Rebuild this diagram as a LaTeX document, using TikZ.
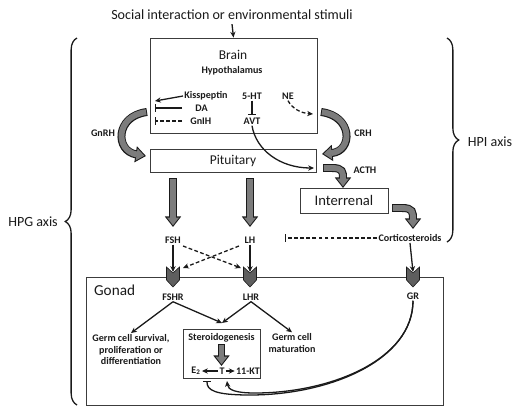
\documentclass[tikz,border=0pt]{standalone}
\usepackage{fontspec}
\setmainfont{Carlito}
\usetikzlibrary{calc,arrows.meta,decorations.pathreplacing}
\definecolor{ink}{HTML}{1A1A1A}
\definecolor{frame}{HTML}{3C3C3C}
\definecolor{blockgray}{HTML}{7C7C7C}
\definecolor{chevgray}{HTML}{5E5E5E}
\tikzset{
  box/.style={draw=frame, line width=0.8pt, inner sep=0pt},
  big/.style={text=ink, font=\fontsize{11.5}{13}\selectfont},
  sml/.style={text=ink, inner sep=1pt, align=center, font=\bfseries\fontsize{8.6}{9.8}\selectfont},
  arr/.style={draw=ink, line width=1.1pt, -{Stealth[length=5pt,width=4.5pt]}},
  inh/.style={draw=ink, line width=1.1pt, -{Bar[width=6.5pt]}},
  dsh/.style={dash pattern=on 3.2pt off 2pt},
  fat/.style={draw=blockgray, line width=5pt, shorten <=0.8pt, shorten >=1.5pt,
    -{Triangle[length=6.6pt,width=10pt]},
    preaction={draw=ink, line width=6.8pt, shorten <=0pt, shorten >=0pt,
      -{Triangle[length=9pt,width=13.4pt]}}},
  chev/.style={fill=chevgray, draw=ink, line width=0.5pt, line join=miter},
  brc/.style={draw=ink, line width=1.1pt, decorate, decoration={brace, amplitude=10pt}},
}

\begin{document}
\begin{tikzpicture}[x=0.03cm, y=-0.03cm]
  \useasboundingbox (0,0) rectangle (520,414);
  % boxes
  \node[box, minimum width=5.01cm, minimum height=2.85cm] (brain) at (233.5,85.5) {};
  \node[box, big, minimum width=4.98cm, minimum height=0.69cm] (pit) at (233,160.5) {Pituitary};
  \node[box, big, font=\fontsize{12.5}{14}\selectfont, minimum width=2.64cm, minimum height=0.75cm] (inter) at (344,200.5) {Interrenal};
  \node[box, minimum width=10.71cm, minimum height=3.84cm] (gonad) at (264.5,341) {};
  \node[box, minimum width=2.31cm, minimum height=1.47cm] (ster) at (221.5,353.5) {};

  % stimulus
  \node[big, font=\fontsize{12}{14}\selectfont] (soc) at (232,15) {Social interaction or environmental stimuli};
  \draw[arr] (soc.south) -- (brain.north);

  % brain
  \node[big] (brainlbl) at (233,55) {Brain};
  \node[sml] (hypo) at (232,71) {Hypothalamus};
  \node[sml, anchor=west] (kiss) at (183,96) {Kisspeptin};
  \node[sml, anchor=west] (da) at (194,108) {DA};
  \node[sml, anchor=west] (gnih) at (189,121) {GnIH};
  \coordinate (kissend) at (155,101);
  \draw[arr] (kiss.west) -- (kissend);
  \draw[inh] (182,108) -- (155,108);
  \draw[inh, dsh] (182,121) -- (155,121);
  \node[sml] (ht) at (252,96) {5-HT};
  \node[sml] (avt) at (252,121) {AVT};
  \draw[inh] (ht.south) -- ($(avt.north)+(0,-1)$);
  \node[sml] (ne) at (288,96) {NE};
  \coordinate (neend) at (313,114);
  \draw[arr, dsh] (ne.south) .. controls (292,108) and (300,113) .. (neend);
  \coordinate (avtend) at (314,168);
  \draw[arr] (avt.south) .. controls (256,150) and (280,168) .. (avtend);

  % hormones between boxes
  \draw[fat] (147,112) .. controls (115,116) and (115,151) .. (146,156);
  \node[sml] (gnrh) at (103,133) {GnRH};
  \draw[fat] (321,112) .. controls (353,116) and (353,151) .. (322,154);
  \node[sml] (crh) at (363,133) {CRH};
  \draw[fat] (323,168) -- (332,168) .. controls (343,168) and (343,172) .. (343,188);
  \node[sml] (acth) at (365,170) {ACTH};
  \draw[fat] (392,208) -- (402,208) .. controls (413,208) and (413,212) .. (413,229);
  \node[sml] (cort) at (410,238) {Corticosteroids};
  \draw[inh, dsh] (cort.west) -- (285,238);

  \draw[fat] (173,178) -- (173,227);
  \draw[fat] (250,178) -- (250,227);
  \node[sml] (fsh) at (173,240) {FSH};
  \node[sml] (lh) at (250,240) {LH};

  % receptors
  \coordinate (fshrc) at (173,277);
  \coordinate (lhrc) at (250,277);
  \coordinate (grc) at (413,277);
  \draw[arr] (fsh.south) -- ($(fshrc)+(0,-5)$);
  \draw[arr] (lh.south) -- ($(lhrc)+(0,-5)$);
  \draw[arr, dsh] (183,246) -- (241,268);
  \draw[arr, dsh] (239,246) -- (183,268);
  \draw[arr] (cort.south) -- ($(grc)+(0,-5)$);
  \foreach \c in {fshrc,lhrc,grc}
    \draw[chev, shift={(\c)}] (-6.5,-10) -- (0,-4) -- (6.5,-10) -- (6.5,3) -- (0,10) -- (-6.5,3) -- cycle;

  % gonad
  \node[big, anchor=west, font=\fontsize{13}{15}\selectfont] (gonlbl) at (90,290) {Gonad};
  \node[sml] (fshr) at (173,297) {FSHR};
  \node[sml] (lhr) at (251,297) {LHR};
  \node[sml] (gr) at (413,296) {GR};
  \node[sml] (germa) at (131,349.5) {Germ cell survival,\\proliferation or\\differentiation};
  \node[sml] (germb) at (292,343) {Germ cell\\maturation};
  \coordinate (sterin) at (222,323);
  \draw[arr] (fshr.south) -- (germa.north);
  \draw[arr] (fshr.south) -- (sterin);
  \draw[arr] (lhr.south) -- (sterin);
  \draw[arr] (lhr.south) -- (germb.north);
  \node[sml] (sterlbl) at (221.5,338) {Steroidogenesis};
  \draw[fat] (221.5,344) -- (221.5,366);
  \node[sml] (t) at (222,371) {T};
  \node[sml] (e2) at (196,371) {E\textsubscript{2}};
  \node[sml] (kt) at (248,371) {11-KT};
  \draw[arr] (t) -- (e2);
  \draw[arr] (t) -- (kt);
  \draw[inh] (gr.south) .. controls (413,360) and (330,395) .. (250,395)
    .. controls (214,395) and (207,390) .. (207,381);
  \draw[arr] (gr.south) .. controls (413,360) and (330,393) .. (255,393)
    .. controls (236,393) and (228,390) .. (227,381);

  % axes
  \draw[brc] (77,405) -- (77,38);
  \node[big, font=\fontsize{12}{14}\selectfont] (hpg) at (33,222) {HPG axis};
  \draw[brc] (447,38) -- (447,242);
  \node[big, font=\fontsize{12}{14}\selectfont] (hpi) at (490,142) {HPI axis};
\end{tikzpicture}
\end{document}
